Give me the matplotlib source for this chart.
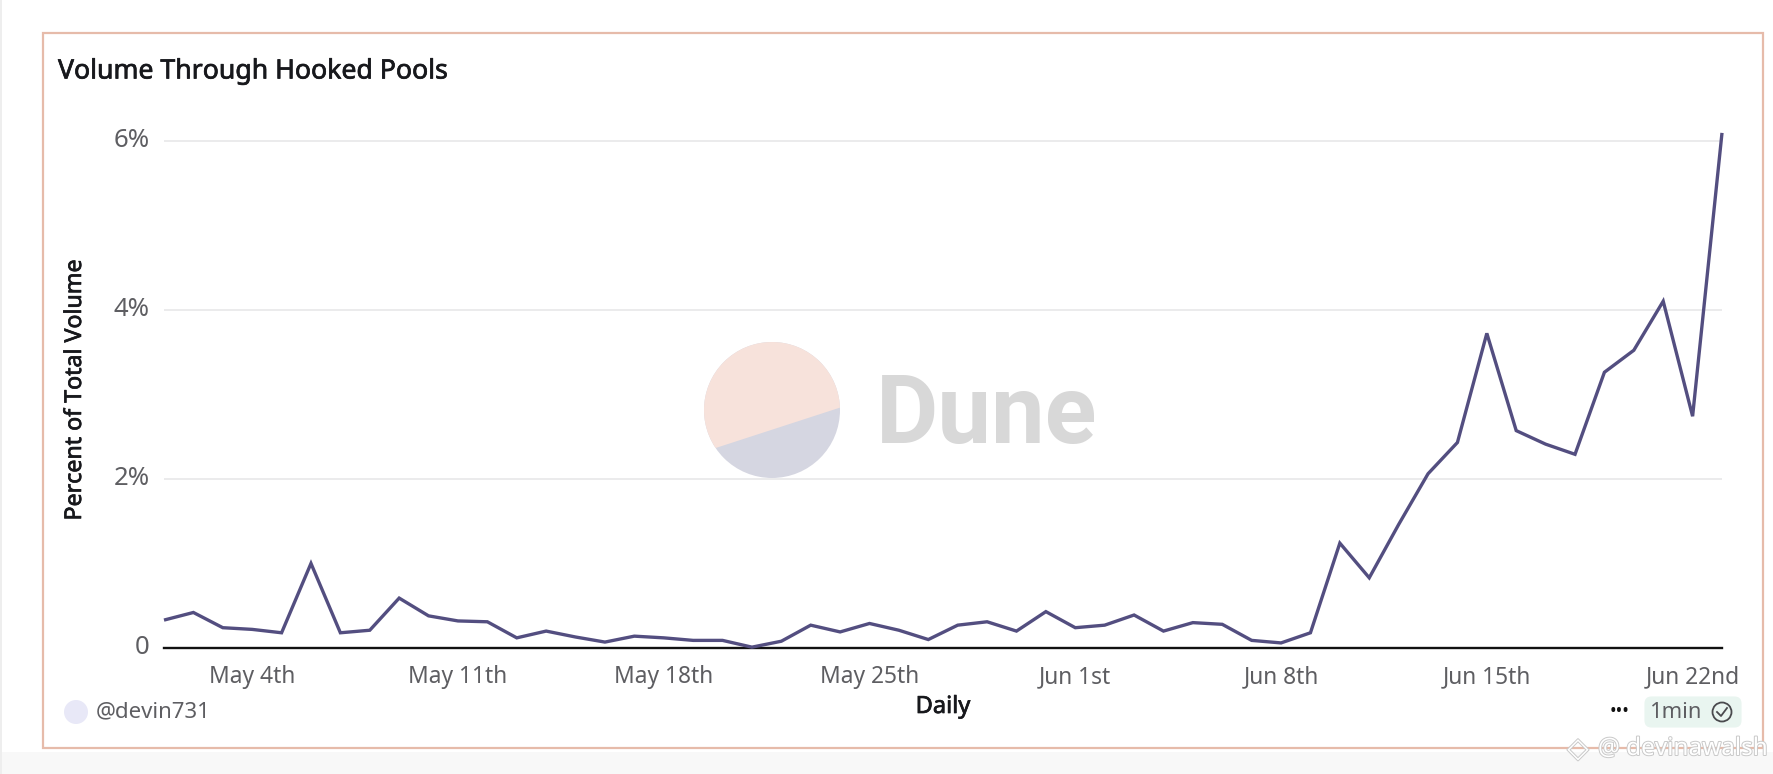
import numpy as np
import pandas as pd
import matplotlib
matplotlib.use('Agg')
import matplotlib.pyplot as plt
import matplotlib.dates as mdates
import matplotlib.patheffects as pe
from matplotlib.patches import Rectangle, Circle, Ellipse, FancyBboxPatch, Polygon
from matplotlib.transforms import ScaledTranslation

plt.rcParams['font.family'] = ['Noto Sans', 'DejaVu Sans']

# daily share of volume
start_date = '2025-05-01'
percent_hooked = [0.33, 0.42, 0.24, 0.22, 0.18, 1.00, 0.18, 0.21, 0.59, 0.38,
                  0.32, 0.31, 0.12, 0.20, 0.13, 0.07, 0.14, 0.12, 0.09, 0.09,
                  0.01, 0.08, 0.27, 0.19, 0.29, 0.21, 0.10, 0.27, 0.31, 0.20,
                  0.43, 0.24, 0.27, 0.39, 0.20, 0.30, 0.28, 0.09, 0.06, 0.18,
                  1.24, 0.83, 1.46, 2.06, 2.43, 3.72, 2.57, 2.41, 2.29, 3.26,
                  3.52, 4.10, 2.74, 6.09]
tick_dates = ['2025-05-04', '2025-05-11', '2025-05-18', '2025-05-25',
              '2025-06-01', '2025-06-08', '2025-06-15', '2025-06-22']
tick_names = ['May 4th', 'May 11th', 'May 18th', 'May 25th',
              'Jun 1st', 'Jun 8th', 'Jun 15th', 'Jun 22nd']
y_ticks = [0, 2, 4, 6]
y_names = ['0', '2%', '4%', '6%']

W, H = 1774, 774
dates = pd.date_range(start_date, periods=len(percent_hooked), freq='D')

fig = plt.figure(figsize=(W / 100, H / 100), dpi=100, facecolor='white')


# pixel helpers, y measured from the top like in the reference
def fx(px):
    return px / W


def fy(py):
    return 1 - py / H


def add_box(x0, y0, x1, y1, **kw):
    fig.add_artist(Rectangle((fx(x0), fy(y1)), (x1 - x0) / W, (y1 - y0) / H,
                             transform=fig.transFigure, **kw))


# page background around the card
add_box(0, 752, 1774, 774, facecolor='#F8F8F8', edgecolor='none', zorder=-5)
add_box(0, 0, 2, 774, facecolor='#EEEEEE', edgecolor='none', zorder=-5)

# card frame
add_box(43, 33, 1763, 748, facecolor='white', edgecolor='#E6BBAA', linewidth=1.6, zorder=-4)

ppu = (648 - 140.5) / 6
ymax = 6.2
ax = fig.add_axes([fx(164), fy(648), (1722 - 164) / W, ymax * ppu / H], zorder=2)
ax.patch.set_alpha(0)

# Dune watermark behind the line
logo = fig.add_axes([fx(704), fy(478), 136 / W, 136 / H], zorder=1)
logo.set_xlim(-1, 1)
logo.set_ylim(-1, 1)
logo.axis('off')
th = np.radians(np.linspace(2, 214, 120))
logo.add_patch(Circle((0, 0), 1, facecolor='#D5D6E1', edgecolor='none'))
logo.add_patch(Polygon(np.c_[np.cos(th), np.sin(th)], closed=True,
                       facecolor='#F7E2DB', edgecolor='none'))
fig.text(fx(876), fy(443), 'Dune', fontsize=69, fontweight='bold', color='#D8D8D8',
         family='Roboto', ha='left', va='baseline', zorder=0.5)

ax.plot(dates, percent_hooked, color='#534E80', linewidth=2.4,
        solid_joinstyle='miter', solid_capstyle='butt', clip_on=False, zorder=3)

ax.set_xlim(dates[0], dates[-1])
ax.set_ylim(0, ymax)
ax.set_yticks(y_ticks)
ax.set_yticklabels(y_names)
ax.set_xticks(mdates.date2num(pd.to_datetime(tick_dates)))
ax.set_xticklabels(tick_names)
ax.tick_params(axis='both', length=0, labelcolor='#5E5E62')
ax.tick_params(axis='x', pad=12.5, labelsize=16.4)
ax.tick_params(axis='y', pad=10.5, labelsize=18.5)
# y labels sit a little above their gridlines
lift = ScaledTranslation(0, 2.2 / 72, fig.dpi_scale_trans)
for lab in ax.get_yticklabels():
    lab.set_transform(lab.get_transform() + lift)

ax.grid(axis='y', color='#E9E9EB', linewidth=1.3)
ax.set_axisbelow(True)
for side in ['top', 'right', 'left']:
    ax.spines[side].set_visible(False)
ax.spines['bottom'].set_color('#111111')
ax.spines['bottom'].set_linewidth(1.7)

# card texts, a thin stroke stands in for the medium weight
heavy = [pe.withStroke(linewidth=0.5, foreground='#17181C')]
fig.text(fx(58), fy(71.5), 'Volume Through Hooked Pools', fontsize=19.2,
         color='#17181C', ha='left', va='center', path_effects=heavy)
fig.text(fx(75), fy(390), 'Percent of Total Volume', fontsize=16.7,
         color='#17181C', rotation=90, ha='center', va='center', path_effects=heavy)
fig.text(fx(943), fy(707), 'Daily', fontsize=17,
         color='#17181C', ha='center', va='center', path_effects=heavy)

# footer: owner, dots and refresh badge
fig.add_artist(Ellipse((fx(76), fy(712)), 24 / W, 24 / H, transform=fig.transFigure,
                       facecolor='#E8E8F7', edgecolor='none'))
fig.text(fx(96), fy(712), '@devin731', fontsize=16, color='#5E5E62', ha='left', va='center')
fig.text(fx(1620), fy(711), '•••', fontsize=12.5, color='#111111', ha='center', va='center')
fig.add_artist(FancyBboxPatch((fx(1648), fy(724)), 90 / W, 24 / H,
                              boxstyle='round,pad=0.002,rounding_size=0.004',
                              mutation_aspect=W / H, transform=fig.transFigure,
                              facecolor='#E9F5F0', edgecolor='none'))
fig.text(fx(1650), fy(712), '1min', fontsize=15.8, color='#5E5E62', ha='left', va='center')
fig.add_artist(Ellipse((fx(1722), fy(712)), 19 / W, 19 / H, transform=fig.transFigure,
                       facecolor='none', edgecolor='#4A4A4E', linewidth=1.3))
fig.add_artist(plt.Line2D([fx(1717), fx(1721), fx(1727)], [fy(712), fy(716), fy(708)],
                          transform=fig.transFigure, color='#4A4A4E', linewidth=1.3))

# screenshot watermark over the bottom right corner
outline = [pe.withStroke(linewidth=1.4, foreground='#C9C9C9')]
fig.text(fx(1598), fy(749), '@ devinawalsh', fontsize=17.5, color='white', ha='left',
         va='center', path_effects=outline, zorder=10)
fig.text(fx(1578), fy(749), '◇', fontsize=20, color='white', ha='center', va='center',
         family='DejaVu Sans', path_effects=outline, zorder=10)

fig.savefig('out.png', dpi=100)
